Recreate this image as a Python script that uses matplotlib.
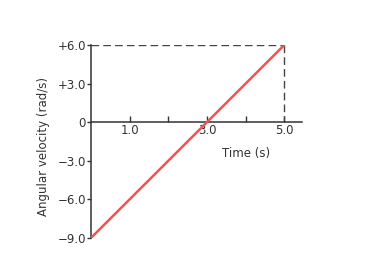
import matplotlib
matplotlib.use("Agg")
import matplotlib.pyplot as plt

time = [0.0, 5.0]
omega = [-9.0, 6.0]

yticks = [6, 3, 0, -3, -6, -9]
ylabels = ["+6.0", "+3.0", "0", "\u22123.0", "\u22126.0", "\u22129.0"]
xticks = [1, 2, 3, 4, 5]
xlabels = ["1.0", "", "3.0", "", "5.0"]

fig = plt.figure(figsize=(3.68, 2.75), dpi=100)
ax = fig.add_axes([0.247, 0.1345, 0.573, 0.702])

ax.plot(time, omega, color="#ef5350", lw=1.8, solid_capstyle="butt", zorder=3)
ax.plot([0, 5], [6, 6], ls=(0, (5.5, 3)), color="#444444", lw=1.0)
ax.plot([5, 5], [6, 0], ls=(0, (5.5, 3)), color="#444444", lw=1.0)

ax.set_xlim(0, 5.45)
ax.set_ylim(-9, 6)
ax.spines["top"].set_visible(False)
ax.spines["right"].set_visible(False)
ax.spines["bottom"].set_position(("data", 0))
for s in ("left", "bottom"):
    ax.spines[s].set_color("#333333")
    ax.spines[s].set_linewidth(1.1)

ax.set_yticks(yticks)
ax.set_yticklabels(ylabels)
ax.set_xticks(xticks)
ax.set_xticklabels(xlabels)
ax.tick_params(axis="y", direction="out", length=3, width=1, color="#333333",
               labelsize=8.5, labelcolor="#333333", pad=0.5)
ax.tick_params(axis="x", direction="in", length=4, width=1, color="#333333",
               labelsize=8.5, labelcolor="#333333", pad=1)

ax.text(4.0, -2.4, "Time (s)", ha="center", va="center", fontsize=8.5, color="#333333")
ax.set_ylabel("Angular velocity (rad/s)", fontsize=8.5, color="#333333")
ax.yaxis.set_label_coords(-0.195, 0.475)

fig.savefig("out.png", dpi=100)
